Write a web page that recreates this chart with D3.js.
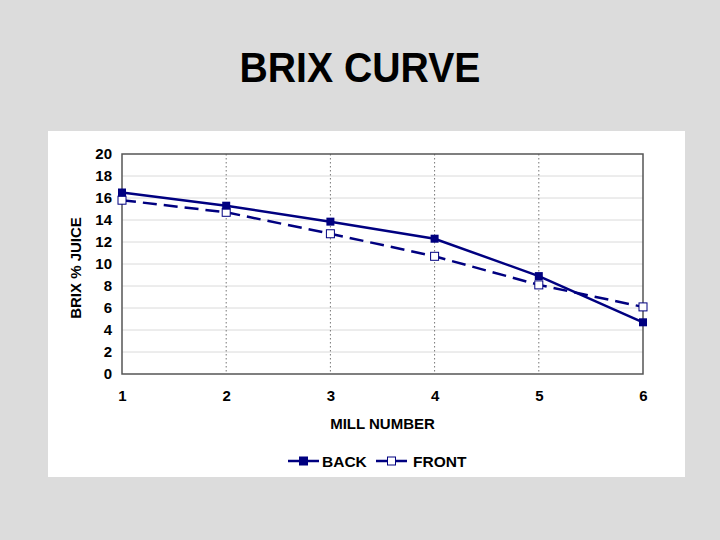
<!DOCTYPE html>
<html>
<head>
<meta charset="utf-8">
<script src="https://cdn.jsdelivr.net/npm/d3@7"></script>
<style>
  body { margin: 0; background: #dcdcdc; }
  svg { display: block; font-family: "Liberation Sans", Arial, sans-serif; }
</style>
</head>
<body>
<svg id="chart" width="720" height="540"></svg>
<script>
// data
const mills = [1, 2, 3, 4, 5, 6];
const back = [16.5, 15.3, 13.85, 12.3, 8.9, 4.7];
const front = [15.8, 14.7, 12.75, 10.7, 8.1, 6.1];
const yTicks = [0, 2, 4, 6, 8, 10, 12, 14, 16, 18, 20];

const svg = d3.select("#chart");
const navy = "#000080";

svg.append("rect").attr("width", 720).attr("height", 540).attr("fill", "#dcdcdc");

// title
svg.append("text")
  .attr("x", 360).attr("y", 82)
  .attr("text-anchor", "middle")
  .attr("font-size", 42).attr("font-weight", "bold")
  .attr("textLength", 241).attr("lengthAdjust", "spacingAndGlyphs")
  .text("BRIX CURVE");

// white chart panel
svg.append("rect")
  .attr("x", 48).attr("y", 131)
  .attr("width", 637).attr("height", 346)
  .attr("fill", "#fff");

const margin = { left: 122, top: 154, right: 643, bottom: 374 };

const x = d3.scaleLinear().domain([1, 6]).range([margin.left, margin.right]);
const y = d3.scaleLinear().domain([0, 20]).range([margin.bottom, margin.top]);

// horizontal grid
svg.append("g")
  .selectAll("line")
  .data(yTicks.slice(1, -1))
  .join("line")
  .attr("x1", margin.left).attr("x2", margin.right)
  .attr("y1", d => y(d)).attr("y2", d => y(d))
  .attr("stroke", "#dadada").attr("stroke-width", 1);

// vertical dotted grid
svg.append("g")
  .selectAll("line")
  .data(mills.slice(1, -1))
  .join("line")
  .attr("x1", d => x(d)).attr("x2", d => x(d))
  .attr("y1", margin.top).attr("y2", margin.bottom)
  .attr("stroke", "#777").attr("stroke-width", 1)
  .attr("stroke-dasharray", "1.5,2.5");

// plot frame
svg.append("rect")
  .attr("x", margin.left).attr("y", margin.top)
  .attr("width", margin.right - margin.left)
  .attr("height", margin.bottom - margin.top)
  .attr("fill", "none").attr("stroke", "#555").attr("stroke-width", 1.5);

// axes
const yAxis = svg.append("g")
  .attr("transform", `translate(${margin.left},0)`)
  .call(d3.axisLeft(y).tickValues(yTicks).tickSize(0).tickPadding(10));
const xAxis = svg.append("g")
  .attr("transform", `translate(0,${margin.bottom})`)
  .call(d3.axisBottom(x).tickValues(mills).tickFormat(d3.format("d")).tickSize(0).tickPadding(16));
[yAxis, xAxis].forEach(a => {
  a.select(".domain").remove();
  a.selectAll("text")
    .attr("font-family", "Liberation Sans, Arial, sans-serif")
    .attr("font-size", 15).attr("font-weight", "bold").attr("fill", "#000");
});

// axis titles
svg.append("text")
  .attr("x", (margin.left + margin.right) / 2).attr("y", 429)
  .attr("text-anchor", "middle")
  .attr("font-size", 15).attr("font-weight", "bold")
  .text("MILL NUMBER");
svg.append("text")
  .attr("transform", `translate(81,${(margin.top + margin.bottom) / 2 + 4}) rotate(-90)`)
  .attr("text-anchor", "middle")
  .attr("font-size", 15).attr("font-weight", "bold")
  .text("BRIX % JUICE");

// lines
const line = d3.line().x((d, i) => x(mills[i])).y(d => y(d));

svg.append("path").datum(front)
  .attr("d", line).attr("fill", "none")
  .attr("stroke", navy).attr("stroke-width", 2.5)
  .attr("stroke-dasharray", "14,7");
svg.append("path").datum(back)
  .attr("d", line).attr("fill", "none")
  .attr("stroke", navy).attr("stroke-width", 2.5);

// markers
svg.append("g").selectAll("rect")
  .data(front).join("rect")
  .attr("x", (d, i) => x(mills[i]) - 4).attr("y", d => y(d) - 4)
  .attr("width", 8).attr("height", 8)
  .attr("fill", "#fff").attr("stroke", navy).attr("stroke-width", 1);
svg.append("g").selectAll("rect")
  .data(back).join("rect")
  .attr("x", (d, i) => x(mills[i]) - 4).attr("y", d => y(d) - 4)
  .attr("width", 8).attr("height", 8)
  .attr("fill", navy);

// legend
const legend = svg.append("g").attr("transform", "translate(0,461)");
const items = [
  { name: "BACK", x0: 288, textX: 322, dash: null, fill: navy },
  { name: "FRONT", x0: 376, textX: 413, dash: "14,5", fill: "#fff" }
];
items.forEach(it => {
  legend.append("line")
    .attr("x1", it.x0).attr("x2", it.x0 + 31)
    .attr("stroke", navy).attr("stroke-width", 2.5)
    .attr("stroke-dasharray", it.dash);
  legend.append("rect")
    .attr("x", it.x0 + 15.5 - 4).attr("y", -4)
    .attr("width", 8).attr("height", 8)
    .attr("fill", it.fill).attr("stroke", navy).attr("stroke-width", 1);
  legend.append("text")
    .attr("x", it.textX).attr("y", 5.5)
    .attr("font-size", 15.5).attr("font-weight", "bold")
    .text(it.name);
});
</script>
</body>
</html>
